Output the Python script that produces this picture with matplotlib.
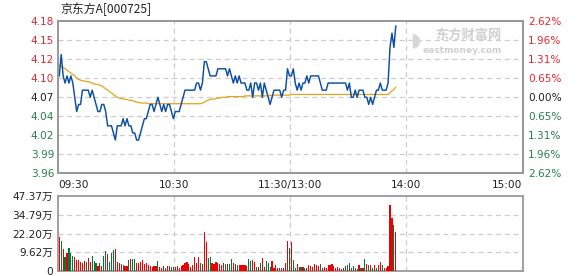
import matplotlib
matplotlib.use("Agg")
import matplotlib.pyplot as plt
import numpy as np

# ---------------- data ----------------
title = "京东方A[000725]"
prev_close = 4.07
price_ticks_lbl = ["3.96", "3.99", "4.02", "4.04", "4.07", "4.10", "4.12", "4.15", "4.18"]
pct_ticks_lbl = ["2.62%", "1.96%", "1.31%", "0.65%", "0.00%", "0.65%", "1.31%", "1.96%", "2.62%"]
time_lbl = ["09:30", "10:30", "11:30/13:00", "14:00", "15:00"]
time_pos = [0, 60, 120, 180, 240]
vol_ticks_lbl = ["0", "9.62万", "22.20万", "34.79万", "47.37万"]
vol_max = 47.37
pct_span = 2.62

price = [
    4.10, 4.13, 4.10, 4.09, 4.10, 4.09, 4.10, 4.09, 4.07, 4.05,
    4.06, 4.06, 4.08, 4.08, 4.08, 4.08, 4.07, 4.08, 4.07, 4.06,
    4.05, 4.05, 4.06, 4.06, 4.05, 4.03, 4.03, 4.03, 4.02, 4.01,
    4.03, 4.03, 4.03, 4.04, 4.03, 4.04, 4.03, 4.03, 4.02, 4.02,
    4.01, 4.01, 4.02, 4.03, 4.04, 4.04, 4.05, 4.06, 4.06, 4.05,
    4.06, 4.07, 4.06, 4.05, 4.06, 4.05, 4.06, 4.06, 4.05, 4.04,
    4.05, 4.05, 4.05, 4.06, 4.07, 4.08, 4.08, 4.08, 4.08, 4.08,
    4.08, 4.09, 4.09, 4.08, 4.09, 4.12, 4.12, 4.11, 4.10, 4.10,
    4.10, 4.10, 4.11, 4.11, 4.11, 4.11, 4.11, 4.10, 4.11, 4.10,
    4.09, 4.10, 4.09, 4.10, 4.09, 4.09, 4.09, 4.08, 4.08, 4.09,
    4.07, 4.09, 4.09, 4.08, 4.09, 4.07, 4.09, 4.08, 4.07, 4.06,
    4.07, 4.08, 4.08, 4.08, 4.08, 4.07, 4.08, 4.08, 4.11, 4.10,
    4.10, 4.11, 4.09, 4.08, 4.09, 4.08, 4.09, 4.09, 4.10, 4.09,
    4.10, 4.10, 4.10, 4.10, 4.10, 4.09, 4.08, 4.08, 4.08, 4.09,
    4.09, 4.09, 4.09, 4.09, 4.09, 4.09, 4.09, 4.09, 4.09, 4.08,
    4.09, 4.07, 4.07, 4.08, 4.07, 4.08, 4.08, 4.08, 4.07, 4.07,
    4.06, 4.07, 4.06, 4.07, 4.08, 4.08, 4.09, 4.08, 4.08, 4.08,
    4.09, 4.14, 4.16, 4.14, 4.17,
]

avg_price = [
    4.115, 4.113, 4.112, 4.110, 4.108, 4.106, 4.104, 4.102, 4.100, 4.097,
    4.095, 4.094, 4.093, 4.093, 4.092, 4.092, 4.091, 4.090, 4.089, 4.088,
    4.088, 4.087, 4.086, 4.084, 4.082, 4.080, 4.078, 4.076, 4.074, 4.072,
    4.070, 4.069, 4.068, 4.068, 4.067, 4.067, 4.066, 4.066, 4.065, 4.064,
    4.063, 4.063, 4.062, 4.062, 4.062, 4.062, 4.061, 4.061, 4.061, 4.061,
    4.061, 4.061, 4.061, 4.061, 4.061, 4.061, 4.061, 4.061, 4.061, 4.061,
    4.061, 4.061, 4.061, 4.061, 4.061, 4.061, 4.061, 4.061, 4.061, 4.061,
    4.061, 4.061, 4.061, 4.061, 4.062, 4.063, 4.065, 4.066, 4.067, 4.067,
    4.068, 4.068, 4.069, 4.069, 4.070, 4.070, 4.070, 4.071, 4.071, 4.071,
    4.071, 4.071, 4.071, 4.071, 4.071, 4.071, 4.072, 4.072, 4.072, 4.072,
    4.072, 4.072, 4.072, 4.072, 4.072, 4.072, 4.072, 4.072, 4.072, 4.073,
    4.073, 4.073, 4.073, 4.073, 4.073, 4.073, 4.073, 4.073, 4.073, 4.073,
    4.074, 4.074, 4.074, 4.074, 4.074, 4.074, 4.074, 4.074, 4.074, 4.074,
    4.074, 4.074, 4.074, 4.074, 4.074, 4.074, 4.074, 4.074, 4.074, 4.074,
    4.074, 4.074, 4.074, 4.074, 4.074, 4.074, 4.074, 4.074, 4.074, 4.074,
    4.074, 4.074, 4.074, 4.074, 4.074, 4.074, 4.074, 4.074, 4.074, 4.074,
    4.074, 4.074, 4.074, 4.074, 4.074, 4.074, 4.074, 4.074, 4.074, 4.074,
    4.074, 4.076, 4.079, 4.081, 4.084,
]

volume = [
    21.4, 18.8, 13.7, 8.7, 11.2, 14.4, 11.2, 9.3, 8.7, 7.0,
    7.0, 5.9, 4.9, 6.3, 5.7, 8.0, 5.7, 9.3, 6.3, 4.9,
    3.0, 4.9, 3.0, 9.3, 12.5, 10.8, 5.7, 11.2, 13.1, 13.7,
    5.7, 5.1, 4.4, 3.6, 3.0, 3.0, 7.0, 7.4, 7.4, 7.4,
    4.9, 5.1, 5.9, 7.0, 4.4, 4.9, 3.6, 3.0, 2.5, 3.4,
    3.0, 6.3, 2.3, 1.7, 3.0, 1.7, 3.0, 3.0, 2.3, 2.3,
    2.3, 3.0, 1.9, 3.4, 3.8, 4.9, 5.5, 4.4, 2.5, 3.6,
    8.7, 4.9, 8.7, 4.9, 4.2, 24.5, 18.2, 8.0, 8.7, 4.9,
    4.2, 5.5, 5.1, 4.4, 3.6, 4.9, 4.4, 4.4, 4.4, 7.6,
    5.3, 4.6, 3.8, 3.8, 3.8, 3.8, 3.8, 3.2, 7.6, 6.3,
    6.9, 5.7, 2.5, 2.5, 5.0, 8.2, 2.5, 6.3, 5.0, 2.5,
    6.3, 1.9, 3.8, 1.9, 1.9, 1.9, 1.9, 5.0, 18.9, 14.5,
    18.3, 6.9, 1.9, 4.4, 2.5, 2.5, 2.5, 1.9, 1.9, 3.8,
    3.2, 2.5, 4.4, 3.8, 3.2, 4.4, 1.9, 2.5, 1.9, 3.8,
    3.8, 4.4, 3.2, 1.9, 2.5, 1.9, 1.3, 1.9, 3.2, 3.8,
    5.0, 1.9, 3.2, 1.9, 1.3, 3.8, 1.9, 1.9, 7.6, 4.4,
    3.8, 3.8, 1.9, 3.8, 1.9, 3.8, 5.7, 3.8, 1.9, 1.9,
    3.2, 41.7, 33.5, 29.0, 24.6,
]

vol_up = [
    1, 0, 1, 0, 1, 0, 0, 0, 1, 1,
    1, 1, 1, 1, 0, 1, 1, 0, 0, 0,
    1, 1, 1, 0, 0, 1, 0, 0, 0, 1,
    1, 1, 1, 0, 1, 1, 0, 1, 0, 0,
    1, 1, 1, 1, 1, 1, 1, 1, 1, 1,
    1, 0, 1, 1, 1, 0, 1, 1, 0, 0,
    1, 1, 1, 1, 1, 1, 1, 1, 1, 1,
    1, 1, 1, 0, 1, 1, 1, 0, 0, 1,
    1, 1, 1, 1, 1, 1, 0, 1, 0, 0,
    1, 1, 0, 1, 1, 1, 1, 1, 0, 0,
    1, 1, 0, 1, 0, 1, 1, 0, 0, 0,
    1, 1, 1, 1, 1, 0, 1, 1, 1, 0,
    1, 0, 0, 1, 1, 0, 1, 0, 1, 1,
    1, 1, 1, 1, 1, 0, 1, 1, 1, 1,
    1, 1, 1, 1, 1, 1, 1, 0, 1, 0,
    0, 1, 0, 1, 0, 1, 0, 1, 0, 1,
    0, 1, 0, 1, 0, 1, 1, 0, 1, 1,
    1, 1, 1, 0, 1,
]

# ---------------- style ----------------
FONT = ["DejaVu Sans", "Noto Sans CJK SC"]
plt.rcParams["font.family"] = FONT
RED = "#e8272b"
GREEN = "#268046"
DARK = "#222222"
GRID = "#cccccc"
SPINE = "#999999"
BLUE = "#0b4ea2"
ORANGE = "#e2a41c"
BAR_RED = "#ee0000"
BAR_GREEN = "#007a3a"

W, H = 578, 276
fig = plt.figure(figsize=(W / 100, H / 100), dpi=100)

def rect(l, t, r, b):
    return [l / W, 1 - b / H, (r - l) / W, (b - t) / H]

ax = fig.add_axes(rect(58.3, 21.3, 522.5, 173.3))
axv = fig.add_axes(rect(58.3, 196, 522.5, 271))

x = np.arange(len(price)) + 0.5
span = prev_close * pct_span / 100
ylo, yhi = prev_close - span, prev_close + span
ax.set_xlim(0, 240)
ax.set_ylim(ylo, yhi)
tick_pos = np.linspace(ylo, yhi, len(price_ticks_lbl))

for yv in tick_pos[1:-1]:
    ax.axhline(yv, color=GRID, lw=0.9, ls=(0, (4, 3)), zorder=0)
for xv in time_pos[1:-1]:
    ax.axvline(xv, color=GRID, lw=0.9, ls=(0, (4, 3)), zorder=0)

ax.plot(x, avg_price, color=ORANGE, lw=0.9, zorder=2)
ax.plot(x, price, color=BLUE, lw=1.05, zorder=3)

ax.set_yticks(tick_pos)
ax.set_yticklabels(price_ticks_lbl, fontsize=7.6)
ax.set_xticks(time_pos)
ax.set_xticklabels(time_lbl, fontsize=7.6, color=DARK)
ax.tick_params(length=0, pad=3)
ax.tick_params(axis="x", pad=5)
xl = ax.get_xticklabels()
xl[0].set_ha("left")
xl[-1].set_ha("right")

n_mid = len(price_ticks_lbl) // 2
for i, t in enumerate(ax.get_yticklabels()):
    t.set_color(RED if i > n_mid else (GREEN if i < n_mid else DARK))

axr = ax.twinx()
axr.set_ylim(ylo, yhi)
axr.set_yticks(tick_pos)
axr.set_yticklabels(pct_ticks_lbl, fontsize=7.6)
axr.tick_params(length=0, pad=4)
for i, t in enumerate(axr.get_yticklabels()):
    t.set_color(RED if i > n_mid else (GREEN if i < n_mid else DARK))

for a in (ax, axr, axv):
    for s in a.spines.values():
        s.set_color(SPINE)
        s.set_linewidth(1.3)

# watermark
ax.text(0.955, 0.955, "东方财富网", transform=ax.transAxes, ha="right", va="top",
        fontsize=9.5, color="#d0d0d0", fontweight="bold", family=["Noto Sans CJK SC"], zorder=1)
ax.text(0.955, 0.84, "eastmoney.com", transform=ax.transAxes, ha="right", va="top",
        fontsize=6.5, color="#d0d0d0", fontweight="bold", zorder=1)
ax.text(0.77, 0.88, "◗", transform=ax.transAxes, ha="center", va="center",
        fontsize=14, color="#d6d6d6", zorder=1)

fig.text(60 / W, 1 - 9 / H, title, ha="left", va="center", fontsize=8.6,
         color=DARK, family=["Noto Sans CJK SC", "DejaVu Sans"])

# volume
axv.set_xlim(0, 240)
axv.set_ylim(0, vol_max)
vcols = [BAR_RED if u else BAR_GREEN for u in vol_up]
axv.bar(x, volume, width=0.6, color=vcols, zorder=3, antialiased=False, linewidth=0)
vpos = np.linspace(0, vol_max, len(vol_ticks_lbl))
for yv in vpos[1:-1]:
    axv.axhline(yv, color=GRID, lw=0.9, ls=(0, (4, 3)), zorder=0)
for xv in time_pos[1:-1]:
    axv.axvline(xv, color=GRID, lw=0.9, ls=(0, (4, 3)), zorder=0)
axv.set_xticks([])
axv.set_yticks(vpos)
axv.set_yticklabels(vol_ticks_lbl, fontsize=7.6, color=DARK)
axv.tick_params(length=0, pad=4)

fig.savefig("out.png", dpi=100, facecolor="white")
